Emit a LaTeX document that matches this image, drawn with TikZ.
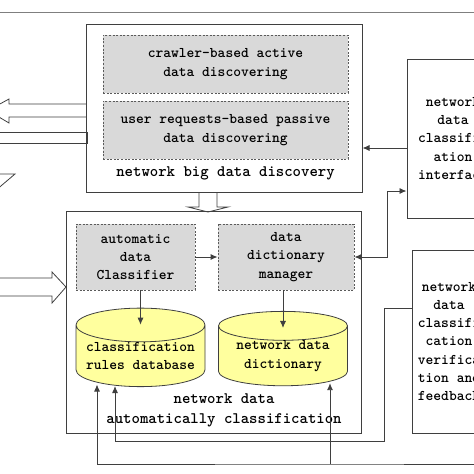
\documentclass[tikz,border=0pt]{standalone}
\usetikzlibrary{arrows.meta,positioning,shapes.geometric,calc}
\usepackage{xcolor}
\definecolor{boxline}{HTML}{3F3F3F}
\definecolor{dashgray}{HTML}{5A5A5A}
\definecolor{shade}{HTML}{D9D9D9}
\definecolor{dbyellow}{HTML}{FFFF9E}
\definecolor{rule}{HTML}{7F7F7F}
\tikzset{
  outerbox/.style={draw=boxline, line width=1pt, fill=white, align=center, inner sep=0pt, font=\smalltext},
  greybox/.style={draw=dashgray, dash pattern=on 2pt off 1.6pt, line width=0.8pt, fill=shade, align=center, inner sep=0pt, font=\smalltext},
  dbcyl/.style={cylinder, shape border rotate=90, aspect=0.31, draw=boxline, line width=0.8pt, fill=dbyellow, align=center, inner sep=0pt, minimum width=129pt, minimum height=73pt, font=\smalltext},
  biglabel/.style={align=center, inner sep=0pt, font=\bigtext},
  arrow/.style={-{Latex[length=7pt,width=6pt]}, line width=0.9pt, draw=boxline},
  hollow/.style={draw=boxline, line width=0.8pt, line join=miter}
}
\newcommand{\smalltext}{\ttfamily\bfseries\fontsize{14.8pt}{18.3pt}\selectfont}
\newcommand{\bigtext}{\ttfamily\bfseries\fontsize{16pt}{20pt}\selectfont}

\begin{document}
\begin{tikzpicture}[x=1pt, y=-1pt]
  \useasboundingbox (0,0) rectangle (474,474);
  \clip (0,0) rectangle (474,474);
  \draw[rule, line width=1pt] (0,12) -- (474,12);

  % discovery
  \node[outerbox, minimum width=276pt, minimum height=168pt] (discovery) at (224,108) {};
  \node[greybox, minimum width=245pt, minimum height=58pt] (crawler) at (225.5,64) {crawler-based active\\data discovering};
  \node[greybox, minimum width=245pt, minimum height=58pt] (userreq) at (225.5,130) {user requests-based passive\\data discovering};
  \node[biglabel] (disclabel) at (225.5,173) {network big data discovery};

  % classification
  \node[outerbox, minimum width=295pt, minimum height=222pt] (classif) at (213.5,322) {};
  \node[greybox, minimum width=119pt, minimum height=66pt] (classifier) at (135.5,257) {automatic\\data\\Classifier};
  \node[greybox, minimum width=136pt, minimum height=66pt] (manager) at (286,257) {data\\dictionary\\manager};
  \node[dbcyl] (rulesdb) at (140.5,356) {classification\\rules database};
  \node[dbcyl] (dictdb) at (283,356) {network data\\dictionary};
  \node[biglabel] (classlabel) at (224,410.5) {network data\\automatically classification};

  % right side
  \node[outerbox, minimum width=92pt, minimum height=159pt] (iface) at (453,138.5) {network\\data\\classific\\ation\\interface};
  \node[outerbox, minimum width=74pt, minimum height=183pt] (verify) at (449,341.5) {network\\data\\classifi\\cation\\verifica\\tion and\\feedback};

  % hollow arrows
  \draw[hollow] (86,104) -- (9,104) -- (9,99) -- (-12,110.5) -- (9,123) -- (9,117) -- (86,117);
  \draw[hollow] (-5,132) -- (87,132) -- (87,143) -- (-5,143);
  \draw[hollow] (-5,174) -- (15,174) -- (-5,191);
  \draw[hollow] (-5,278) -- (52,278) -- (52,272) -- (66,287) -- (52,303) -- (52,296) -- (-5,296);
  \draw[hollow] (discovery.south -| 199,0) -- (199,207) -- (188,207) -- (208,212) -- (228,207) -- (217,207) -- (discovery.south -| 217,0);

  % connectors
  \draw[arrow] ([yshift=-9.5pt]iface.west) -- ([yshift=-40pt]discovery.east);
  \draw[arrow] (classifier) -- (manager);
  \draw[arrow] (classifier.south -| rulesdb.north) -- ([yshift=-17pt]rulesdb.north);
  \draw[arrow] (manager.south -| dictdb.north) -- ([yshift=-17pt]dictdb.north);
  \draw[arrow, {Latex[length=7pt,width=6pt]}-{Latex[length=7pt,width=6pt]}] (manager.east) -- ++(33,0) |- ([yshift=-52.5pt]iface.west);

  \coordinate (fbA) at (115,441);
  \coordinate (fbB) at (330,464);
  \coordinate (fbout) at (480,464);
  \draw[arrow] ([yshift=33.5pt]verify.west) -- ++(-27,0) |- (fbA) -- ([xshift=-25.5pt,yshift=1pt]rulesdb.south);
  \draw[arrow] (fbout) -- (fbB) -| ([xshift=-43.5pt,yshift=2.5pt]rulesdb.south);
  \draw[arrow] (fbB) -- ([xshift=47pt,yshift=3pt]dictdb.south);
\end{tikzpicture}
\end{document}
